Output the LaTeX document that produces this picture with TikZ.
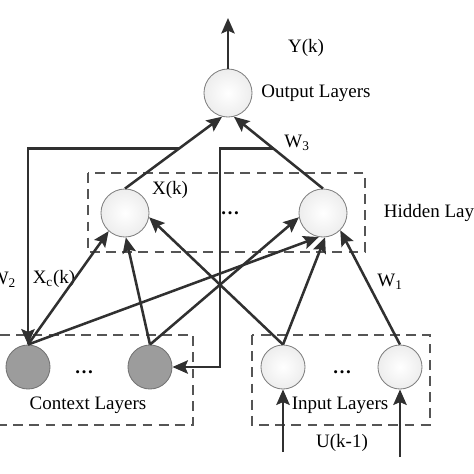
\documentclass[tikz,border=0pt]{standalone}
\usepackage{fontspec}
\setmainfont{Liberation Serif}
\usetikzlibrary{arrows.meta,positioning,calc}
\definecolor{linegray}{HTML}{303030}
\definecolor{boxgray}{HTML}{555555}
\definecolor{ctxfill}{HTML}{9C9C9C}
\tikzset{
  neuron/.style={circle,draw=gray,line width=0.6pt,inner color=white,outer color=gray!14,minimum size=1.2cm,inner sep=0pt},
  inneuron/.style={neuron,minimum size=1.1cm},
  ctxneuron/.style={circle,draw=gray!90!black,line width=0.6pt,fill=ctxfill,minimum size=1.1cm,inner sep=0pt},
  layerbox/.style={draw=boxgray,line width=1.1pt,dash pattern=on 7pt off 4.5pt},
  link/.style={draw=linegray,line width=1.8pt,-{Stealth[length=11pt,width=9.5pt,inset=2pt]}}
}
\begin{document}
\begin{tikzpicture}[x=0.025cm,y=-0.025cm,font=\fontsize{13.5}{16}\selectfont]
\useasboundingbox (0,0) rectangle (474,474);
% layer boxes
\draw[layerbox] (88,173) rectangle (365,252);
\draw[layerbox] (-10,335) rectangle (193,425);
\draw[layerbox] (252,335) rectangle (430,425);
% neurons
\node[neuron] (out) at (228,93) {};
\node[neuron] (hid1) at (125,213) {};
\node[neuron] (hid2) at (323,213) {};
\node[ctxneuron] (ctx1) at (28,367) {};
\node[ctxneuron] (ctx2) at (150,367) {};
\node[inneuron] (in1) at (283,367) {};
\node[inneuron] (in2) at (400,367) {};
% labels
\node (yk) at (306,48) {Y(k)};
\node (outlbl) at (316,93) {Output Layers};
\node (xk) at (170,190) {X(k)};
\node (hdots) at (230,213) {\textbf{\dots}};
\node (w3) at (297,143) {W\textsubscript{3}};
\node[anchor=west] (hidlbl) at (379,213) {Hidden Layers};
\node[anchor=east] (w2) at (21,280) {W\textsubscript{2}};
\node (xck) at (54,279) {X\textsubscript{c}(k)};
\node (w1) at (390,282) {W\textsubscript{1}};
\node (cdots) at (84,372) {\textbf{\dots}};
\node (idots) at (342,372) {\textbf{\dots}};
\node (ctxlbl) at (88,405) {Context Layers};
\node (inlbl) at (340,405) {Input Layers};
\node (uk) at (342,443) {U(k-1)};
% output
\coordinate (yout) at (228,18);
\draw[link] (out.north) -- (yout);
\draw[link] (hid1.north) -- (out.-104);
\draw[link] (hid2.north) -- (out.-76);
% copy back to context
\coordinate (fb1) at ($(hid1.north)!0.56!(out.-104)$);
\coordinate (fb2) at ($(hid2.north)!0.56!(out.-76)$);
\coordinate (fbx) at (220,0);
\draw[link] (fb1) -| (ctx1.north);
\draw[link] (fb2) -- (fb2 -| fbx) |- (ctx2.east);
% into hidden layer
\draw[link] (ctx1.north) -- (hid1.-132);
\draw[link] (ctx1.north) -- (hid2.-100);
\draw[link] (ctx2.north) -- (hid1.-88);
\draw[link] (ctx2.north) -- (hid2.190);
\draw[link] (in1.north) -- (hid1.-10);
\draw[link] (in1.north) -- (hid2.-85);
\draw[link] (in2.north) -- (hid2.-45);
% inputs
\coordinate (u1) at (283,452);
\coordinate (u2) at (400,457);
\draw[link] (u1) -- (in1.south);
\draw[link] (u2) -- (in2.south);
\end{tikzpicture}
\end{document}
